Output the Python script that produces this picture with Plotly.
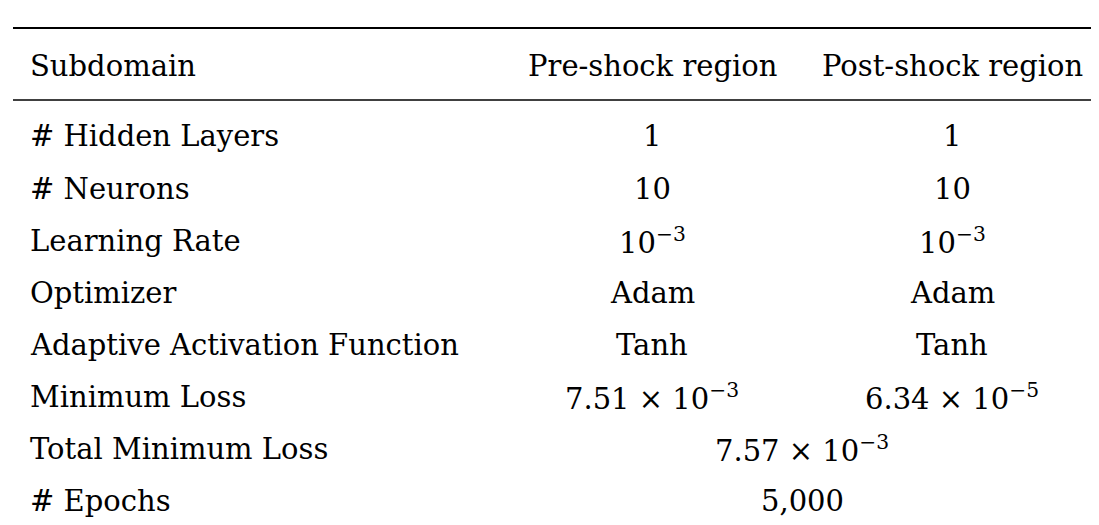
import plotly.graph_objects as go

header = ["Subdomain", "Pre-shock region", "Post-shock region"]
row_labels = ["# Hidden Layers", "# Neurons", "Learning Rate", "Optimizer",
              "Adaptive Activation Function", "Minimum Loss"]
pre_shock = ["1", "10", "10<sup>−3</sup>", "Adam", "Tanh", "7.51 × 10<sup>−3</sup>"]
post_shock = ["1", "10", "10<sup>−3</sup>", "Adam", "Tanh", "6.34 × 10<sup>−5</sup>"]
merged_labels = ["Total Minimum Loss", "# Epochs"]
merged_values = ["7.57 × 10<sup>−3</sup>", "5,000"]

FONT = dict(family="DejaVu Serif, Liberation Serif, serif", size=29, color="black")
x_left, x_pre, x_post, x_mid = 12, 636, 936, 786
y_head = 50
y_rows = [120, 173, 225, 277, 329, 381, 433, 485]

fig = go.Figure()
ann = []

def add(x, y, text, anchor="center"):
    ann.append(dict(x=x, y=y, text=text, showarrow=False, xanchor=anchor,
                    yanchor="middle", font=FONT))

add(x_left, y_head, header[0], "left")
add(x_pre, y_head, header[1])
add(x_post, y_head, header[2])

for i, label in enumerate(row_labels):
    add(x_left, y_rows[i], label, "left")
    add(x_pre, y_rows[i], pre_shock[i])
    add(x_post, y_rows[i], post_shock[i])

for j, label in enumerate(merged_labels):
    y = y_rows[len(row_labels) + j]
    add(x_left, y, label, "left")
    add(x_mid, y, merged_values[j])

rules = [(12, 2.2), (84, 1.4), (512, 2.2)]
shapes = [dict(type="line", x0=-3, x1=1085, y0=y, y1=y, line=dict(color="black", width=w))
          for y, w in rules]

fig.update_layout(
    width=1099, height=525, margin=dict(l=0, r=0, t=0, b=0),
    plot_bgcolor="white", paper_bgcolor="white",
    xaxis=dict(range=[-8, 1091], visible=False, fixedrange=True),
    yaxis=dict(range=[517, -8], visible=False, fixedrange=True),
    annotations=ann, shapes=shapes, showlegend=False,
)
fig.write_html("out.html")
